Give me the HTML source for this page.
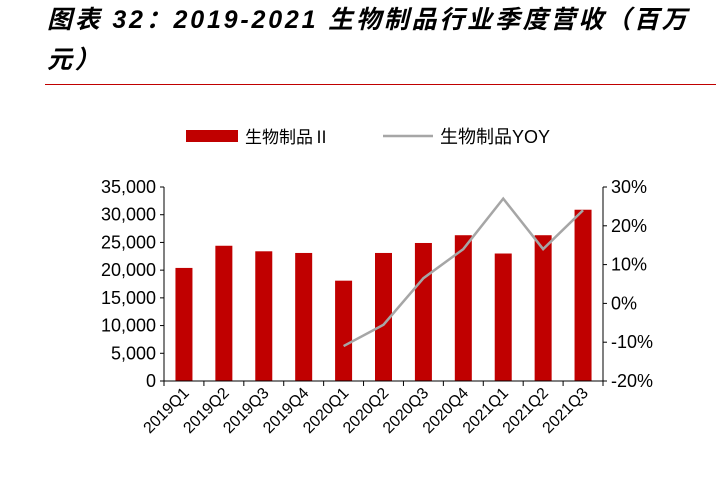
<!DOCTYPE html>
<html><head><meta charset="utf-8"><style>
body{margin:0;background:#fff;width:716px;height:494px;overflow:hidden;font-family:"Liberation Sans","Noto Sans CJK SC",sans-serif}
.title{position:absolute;left:47px;top:0px;white-space:nowrap;font-size:25px;letter-spacing:2.8px;font-weight:bold;font-style:italic;line-height:40px;color:#000}
.rule{position:absolute;left:45px;top:84px;width:671px;height:1px;background:#c00000}
</style></head><body>
<div class="title">图表 32：2019-2021 生物制品行业季度营收（百万<br>元）</div>
<div class="rule"></div>
<svg id="c" width="716" height="494" style="position:absolute;left:0;top:0"></svg>
<script>
const categories=["2019Q1","2019Q2","2019Q3","2019Q4","2020Q1","2020Q2","2020Q3","2020Q4","2021Q1","2021Q2","2021Q3"];
const revenue=[20400,24400,23400,23100,18100,23100,24900,26300,23000,26300,30900];
const yoy=[null,null,null,null,-11,-5.5,6.5,14,27,14,24];
const leftTicks=[0,5000,10000,15000,20000,25000,30000,35000];
const rightTicks=[-20,-10,0,10,20,30];
const svg=document.getElementById('c');const NS='http://www.w3.org/2000/svg';
const X0=164,X1=603,Y0=381,Y1=187;
const step=(X1-X0)/categories.length;
const yL=v=>Y0-(v/35000)*(Y0-Y1);
const yR=v=>Y0-((v+20)/50)*(Y0-Y1);
const xC=i=>X0+step*(i+0.5);
function el(t,a,txt){const e=document.createElementNS(NS,t);for(const k in a)e.setAttribute(k,a[k]);if(txt!=null)e.textContent=txt;svg.appendChild(e);return e;}
revenue.forEach((v,i)=>{const b=el('rect',{x:xC(i)-8.5,y:yL(v),width:17,height:Y0-yL(v),fill:'#c00000'});

});
let pts=[];yoy.forEach((v,i)=>{if(v!=null)pts.push(xC(i)+','+yR(v));});
const ln=el('polyline',{points:pts.join(' '),fill:'none',stroke:'#a6a6a6','stroke-width':2.5});


el('line',{x1:X0,y1:Y1,x2:X0,y2:Y0,stroke:'#000'});
el('line',{x1:X1,y1:Y1,x2:X1,y2:Y0,stroke:'#000'});
el('line',{x1:X0,y1:Y0,x2:X1,y2:Y0,stroke:'#000'});
leftTicks.forEach(t=>{el('line',{x1:X0-4,y1:yL(t),x2:X0,y2:yL(t),stroke:'#000'});
const tx=el('text',{x:X0-8,y:yL(t)+6,'text-anchor':'end','font-size':18},t.toLocaleString('en-US'));

});
rightTicks.forEach(t=>{el('line',{x1:X1,y1:yR(t),x2:X1+4,y2:yR(t),stroke:'#000'});
const tx=el('text',{x:X1+8,y:yR(t)+6,'font-size':18},t+'%');

});
for(let i=0;i<=categories.length;i++)el('line',{x1:X0+step*i,y1:Y0,x2:X0+step*i,y2:Y0+5,stroke:'#000'});
categories.forEach((c,i)=>{const x=xC(i)+6,y=Y0+13;
const tx=el('text',{x:x,y:y,'text-anchor':'end','font-size':16,transform:`rotate(-45 ${x} ${y})`},c);

});
const lg1=el('rect',{x:186,y:130,width:52,height:12,fill:'#c00000'});


const lt1=el('text',{x:245,y:143,'font-size':17},'生物制品Ⅱ');


const lg2=el('line',{x1:383,y1:136,x2:433,y2:136,stroke:'#a6a6a6','stroke-width':2.5});


const lt2=el('text',{x:440,y:143,'font-size':18},'生物制品YOY');


</script>
</body></html>
